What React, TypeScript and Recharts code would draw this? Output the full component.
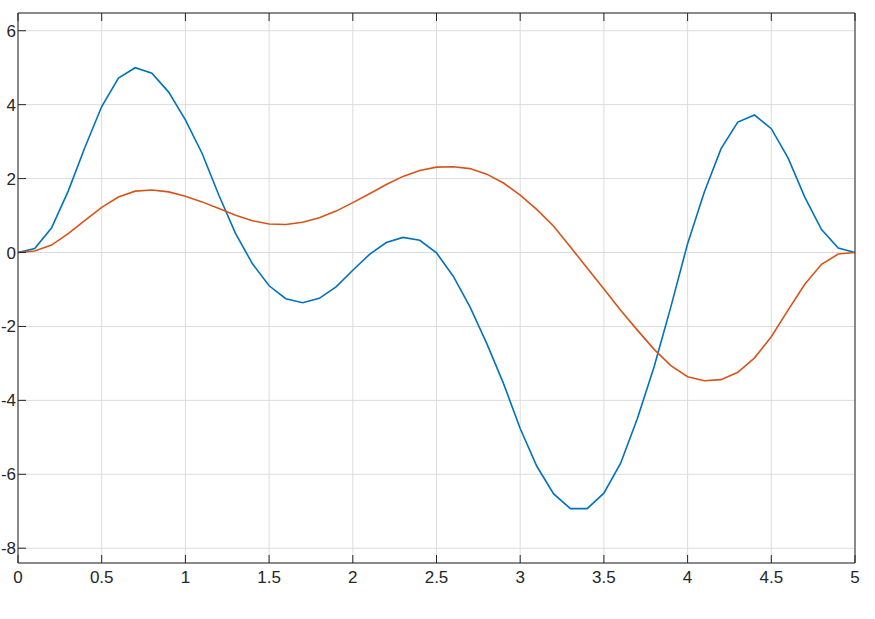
import { LineChart, Line, XAxis, YAxis, CartesianGrid } from 'recharts'

// sample positions
const xValues = [
  0, 0.1, 0.2, 0.3, 0.4, 0.5, 0.6, 0.7, 0.8, 0.9, 1, 1.1, 1.2, 1.3, 1.4, 1.5, 1.6, 1.7, 1.8, 1.9, 2,
  2.1, 2.2, 2.3, 2.4, 2.5, 2.6, 2.7, 2.8, 2.9, 3, 3.1, 3.2, 3.3, 3.4, 3.5, 3.6, 3.7, 3.8, 3.9, 4,
  4.1, 4.2, 4.3, 4.4, 4.5, 4.6, 4.7, 4.8, 4.9, 5,
]

// blue curve
const blueValues = [
  0, 0.11, 0.66, 1.66, 2.85, 3.95, 4.72, 5.0, 4.85, 4.34, 3.59, 2.68, 1.55, 0.51, -0.3, -0.9, -1.25,
  -1.36, -1.24, -0.93, -0.48, -0.05, 0.27, 0.41, 0.33, -0.01, -0.64, -1.47, -2.46, -3.54, -4.76,
  -5.79, -6.53, -6.93, -6.93, -6.51, -5.7, -4.49, -3.09, -1.47, 0.24, 1.64, 2.81, 3.53, 3.72, 3.35,
  2.56, 1.5, 0.62, 0.12, 0,
]

// orange curve
const orangeValues = [
  0, 0.04, 0.2, 0.51, 0.87, 1.22, 1.5, 1.66, 1.69, 1.64, 1.52, 1.37, 1.19, 1.01, 0.86, 0.77, 0.76,
  0.82, 0.94, 1.12, 1.35, 1.59, 1.84, 2.06, 2.22, 2.31, 2.32, 2.27, 2.12, 1.88, 1.55, 1.16, 0.71,
  0.15, -0.42, -0.99, -1.56, -2.1, -2.62, -3.06, -3.36, -3.47, -3.44, -3.24, -2.85, -2.28, -1.56,
  -0.86, -0.32, -0.04, 0,
]

const xTicks = [0, 0.5, 1, 1.5, 2, 2.5, 3, 3.5, 4, 4.5, 5]
const yTicks = [-8, -6, -4, -2, 0, 2, 4, 6]

const data = xValues.map((x, i) => ({ x, blue: blueValues[i], orange: orangeValues[i] }))

const axisColor = '#262626'
const tickFont = { fontSize: 17, fill: axisColor, fontFamily: 'Liberation Sans, Arial, sans-serif' }

export default function App() {
  // chart pinned to the page corner so the y labels can sit in the body margin
  return (
    <div style={{ position: 'absolute', left: 0, top: 0 }}>
      <LineChart
        width={875}
        height={610}
        data={data}
        margin={{ top: 12, right: 19, left: 17, bottom: 46 }}
      >
        <CartesianGrid xAxisId="bottom" yAxisId="left" stroke="#dcdcdc" strokeWidth={1} />
        <XAxis
          xAxisId="bottom"
          dataKey="x"
          type="number"
          domain={[0, 5]}
          ticks={xTicks}
          height={1}
          stroke={axisColor}
          tickSize={-8}
          tickMargin={16}
          tick={tickFont}
          interval={0}
        />
        <XAxis
          xAxisId="top"
          orientation="top"
          dataKey="x"
          type="number"
          domain={[0, 5]}
          ticks={xTicks}
          height={1}
          stroke={axisColor}
          tickSize={-8}
          tickFormatter={() => ''}
          interval={0}
        />
        <YAxis
          yAxisId="left"
          type="number"
          domain={[-8.4, 6.48]}
          ticks={yTicks}
          width={1}
          stroke={axisColor}
          tickSize={-8}
          tickMargin={10}
          tick={tickFont}
          interval={0}
        />
        <YAxis
          yAxisId="right"
          orientation="right"
          type="number"
          domain={[-8.4, 6.48]}
          ticks={yTicks}
          width={1}
          stroke={axisColor}
          tickSize={-8}
          tickFormatter={() => ''}
          interval={0}
        />
        <Line
          xAxisId="bottom"
          yAxisId="left"
          type="linear"
          dataKey="blue"
          stroke="#0072BD"
          strokeWidth={1.6}
          dot={false}
          isAnimationActive={false}
        />
        <Line
          xAxisId="bottom"
          yAxisId="left"
          type="linear"
          dataKey="orange"
          stroke="#D95319"
          strokeWidth={1.6}
          dot={false}
          isAnimationActive={false}
        />
      </LineChart>
    </div>
  )
}
